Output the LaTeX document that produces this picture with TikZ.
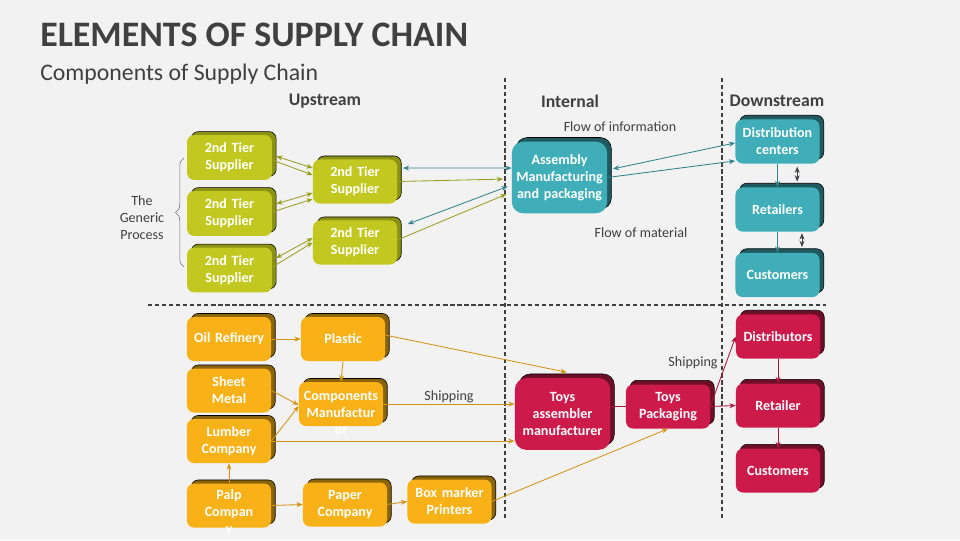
\documentclass[tikz,border=0pt]{standalone}
\usepackage{fontspec}
\setmainfont{Carlito}
\usetikzlibrary{arrows.meta,shadows,decorations.pathreplacing}
\definecolor{bg}{RGB}{242,242,242}
\definecolor{ink}{RGB}{64,64,64}
\definecolor{lime}{RGB}{195,200,32}
\definecolor{limedk}{RGB}{140,146,20}
\definecolor{limeln}{RGB}{155,158,30}
\definecolor{teal1}{RGB}{64,174,184}
\definecolor{tealdk}{RGB}{31,90,96}
\definecolor{tealln}{RGB}{47,132,140}
\definecolor{amber}{RGB}{249,177,24}
\definecolor{amberdk}{RGB}{138,100,8}
\definecolor{amberln}{RGB}{212,146,16}
\definecolor{crim}{RGB}{204,27,74}
\definecolor{crimdk}{RGB}{110,15,40}
\definecolor{crimln}{RGB}{170,20,60}

\tikzset{
	block/.style={rounded corners=5pt, inner sep=0pt, align=center, text=white,
		font=\fontsize{10}{12}\selectfont\bfseries, text width=2.05cm,
		minimum width=2.1cm, minimum height=1.1cm},
	limebox/.style={block, fill=lime, minimum width=2.12cm, minimum height=1.12cm,
		copy shadow={shadow xshift=3pt, shadow yshift=2.5pt, fill=limedk}},
	tealbox/.style={block, fill=teal1,
		copy shadow={shadow xshift=3pt, shadow yshift=3pt, fill=tealdk}},
	amberbox/.style={block, fill=amber,
		copy shadow={shadow xshift=3pt, shadow yshift=2.5pt, fill=amberdk}},
	crimbox/.style={block, fill=crim,
		copy shadow={shadow xshift=3pt, shadow yshift=3pt, fill=crimdk}},
	bigbox/.style={minimum width=2.38cm, minimum height=1.79cm, text width=2.3cm, rounded corners=8pt},
	boxtext/.style={inner sep=0pt, align=center, text=white, font=\fontsize{10}{12}\selectfont\bfseries},
	note/.style={inner sep=0pt, align=center, text=ink, font=\fontsize{10}{12}\selectfont},
	head/.style={inner sep=0pt, text=ink, font=\fontsize{12.6}{14}\selectfont\bfseries},
	divider/.style={ink, line width=1.2pt, dash pattern=on 3pt off 2pt},
	link/.style={line width=0.6pt}
}

\begin{document}
\begin{tikzpicture}[x=0.025cm,y=-0.025cm,>={Stealth[length=4.5pt,width=3.5pt]}]
	\fill[bg] (0,0) rectangle (960,540);
	\useasboundingbox (0,0) rectangle (960,540);
	\node[anchor=base west, inner sep=0pt, text=ink, font=\fontsize{25.5}{30}\selectfont\bfseries] (title) at (40,46) {ELEMENTS OF SUPPLY CHAIN};
	\node[anchor=base west, inner sep=0pt, text=ink, font=\fontsize{16.9}{20}\selectfont] (subtitle) at (40,80) {Components of Supply Chain};
	\node[head] (up) at (325,101) {Upstream};
	\node[head] (in) at (570,101) {Internal};
	\node[head] (down) at (777,101) {Downstream};
	\draw[divider] (505,78) -- (505,520);
	\draw[divider] (722,78) -- (722,520);
	\draw[divider] (148,305) -- (826,305);

	\node[limebox] (s1) at (229.5,157.5) {2nd Tier\\Supplier};
	\node[limebox] (s2) at (229.5,213.5) {2nd Tier\\Supplier};
	\node[limebox] (s3) at (229.5,270) {2nd Tier\\Supplier};
	\node[limebox, minimum width=2.1cm, minimum height=1.1cm] (t1) at (355,181.5) {2nd Tier\\Supplier};
	\node[limebox, minimum width=2.1cm, minimum height=1.1cm] (t2) at (355,242.5) {2nd Tier\\Supplier};
	\node[tealbox, bigbox] (asm) at (559.5,177.5) {Assembly\\Manufacturing\\and packaging};
	\node[tealbox] (dc) at (777.5,141.5) {Distribution\\centers};
	\node[tealbox] (rt) at (777.5,209.5) {Retailers};
	\node[tealbox] (cu) at (777.5,275) {Customers};
	\node[note] (generic) at (142,218) {The\\Generic\\Process};
	\draw[ink!75, decorate, decoration={brace, amplitude=6pt}] (184,267) -- (184,158);
	\node[note] (info) at (620,127) {Flow of information};
	\node[note] (mat) at (641,233) {Flow of material};

	\draw[link, limeln, <->, shorten <=3pt] ([yshift=1.8pt]s1.east) -- ([yshift=9.6pt]t1.west);
	\draw[link, limeln, ->] ([yshift=-1.8pt]s1.east) -- ([yshift=4.6pt]t1.west);
	\draw[link, limeln, <->, shorten <=3pt] ([yshift=6pt]s2.east) -- ([yshift=-8.2pt]t1.west);
	\draw[link, limeln, ->] ([yshift=1pt]s2.east) -- ([yshift=-12.4pt]t1.west);
	\draw[link, limeln, <->, shorten <=3pt] ([yshift=7pt]s3.east) -- ([yshift=3.2pt]t2.west);
	\draw[link, limeln, ->] ([yshift=2pt]s3.east) -- (t2.west);
	\draw[link, tealln, <->, shorten <=4pt] ([yshift=9.6pt]t1.east) -- ([yshift=6.7pt]asm.west);
	\draw[link, limeln, ->, shorten >=6pt] (t1.east) -- ([yshift=-1pt]asm.west);
	\draw[link, tealln, <->, shorten <=3pt, shorten >=8pt] ([yshift=-5.3pt]asm.west) -- ([yshift=10.3pt]t2.east);
	\draw[link, limeln, ->, shorten >=4pt] ([yshift=1.8pt]t2.east) -- ([yshift=-10.3pt]asm.west);
	\draw[link, tealln, <->, shorten <=4pt] ([yshift=5.3pt]asm.east) -- ([yshift=-1pt]dc.west);
	\draw[link, tealln, ->] (asm.east) -- ([yshift=-13.8pt]dc.west);
	\draw[link, tealln, ->] (dc.south) -- (rt.north);
	\draw[link, ink, <->, shorten <=2pt, shorten >=4pt] ([xshift=14pt]dc.south) -- ([xshift=14pt]rt.north);
	\draw[link, tealln, ->] (rt.south) -- (cu.north);
	\draw[link, ink, <->, shorten <=1pt, shorten >=4pt] ([xshift=17.4pt]rt.south) -- ([xshift=17.4pt]cu.north);

	\node[amberbox] (oil) at (229,339) {Oil Refinery};
	\node[amberbox] (plastic) at (343,339) {Plastic};
	\node[amberbox] (sheet) at (229,390.5) {Sheet\\Metal};
	\node[amberbox] (lumber) at (229,441) {Lumber\\Company};
	\node[amberbox] (comp) at (341,404) {};
	\node[boxtext] (comptxt) at (341,413) {Components\\Manufactur\\er};
	\node[amberbox] (palp) at (229,505.5) {};
	\node[boxtext] (palptxt) at (229,513) {Palp\\Compan\\y};
	\node[amberbox] (paper) at (345,504.5) {Paper\\Company};
	\node[amberbox] (printer) at (449.5,501.5) {Box marker\\Printers};
	\node[crimbox, bigbox] (toys) at (562.5,414) {Toys\\assembler\\manufacturer};
	\node[crimbox] (pack) at (668,406.5) {Toys\\Packaging};
	\node[crimbox] (dist) at (778,336.5) {Distributors};
	\node[crimbox] (retail) at (778,405.5) {Retailer};
	\node[crimbox] (cust) at (778,470.5) {Customers};
	\node[note] (ship1) at (449,397) {Shipping};
	\node[note] (ship2) at (693,363) {Shipping};

	\draw[link, amberln, ->] (oil.east) -- (plastic.west);
	\draw[link, amberln, ->] (plastic.south) -- (comp.north);
	\draw[link, amberln, ->] ([yshift=2.8pt]plastic.east) -- ([xshift=3pt,yshift=4pt]toys.north);
	\draw[link, amberln, ->] (sheet.east) -- ([yshift=-0.7pt]comp.west);
	\draw[link, amberln, ->] (lumber.east) -- ([yshift=-1.4pt]comp.west);
	\draw[link, amberln, ->] (lumber.east) -- (lumber.east -| toys.west);
	\draw[link, amberln, ->] (comp.east) -- (comp.east -| toys.west);
	\draw[link, amberln, ->] (palp.north) -- (lumber.south);
	\draw[link, amberln, ->] (palp.east) -- (paper.west);
	\draw[link, amberln, ->] (paper.east) -- (printer.west);
	\draw[link, amberln, ->] (printer.east) -- (pack.south);
	\draw[link, crimln] (pack.west -| toys.east) -- (pack.west);
	\draw[link, crimln, ->] (pack.east) -- (dist.west);
	\draw[link, crimln, ->] (pack.east) -- (retail.west);
	\draw[link, crimln, ->] (dist.south) -- (retail.north);
	\draw[link, crimln, ->] (retail.south) -- (cust.north);
\end{tikzpicture}
\end{document}
